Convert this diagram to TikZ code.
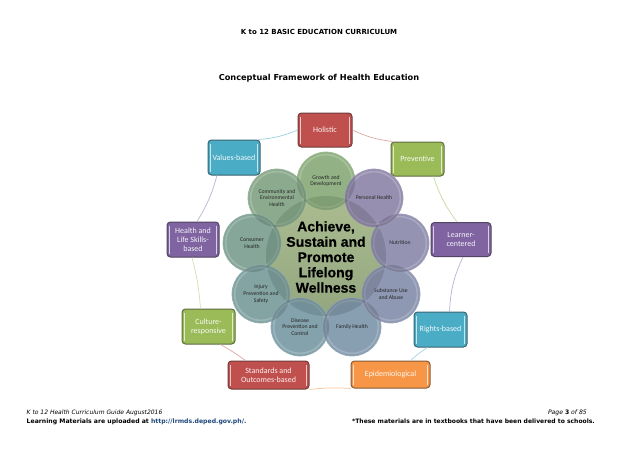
\documentclass[tikz,border=0pt]{standalone}
\usepackage{fontspec}
\setmainfont{Carlito}
\newfontfamily\versa{DejaVu Sans}
\newfontfamily\arialb[BoldFeatures={FakeBold=0.6}]{Liberation Sans}
\definecolor{cGrowth}{HTML}{8DAE7F}
\definecolor{cCommunity}{HTML}{86A788}
\definecolor{cConsumer}{HTML}{7FA293}
\definecolor{cInjury}{HTML}{7DA09F}
\definecolor{cDisease}{HTML}{7E9EA8}
\definecolor{cFamily}{HTML}{8299AD}
\definecolor{cSubstance}{HTML}{8A93AF}
\definecolor{cNutrition}{HTML}{8F8EAE}
\definecolor{cPersonal}{HTML}{9189AB}
\definecolor{bRed}{HTML}{C0504D}
\definecolor{bGreen}{HTML}{9BBB59}
\definecolor{bPurple}{HTML}{8064A2}
\definecolor{bBlue}{HTML}{4BACC6}
\definecolor{bOrange}{HTML}{F79646}
\definecolor{coreTop}{HTML}{ABBC90}
\definecolor{coreBot}{HTML}{93A67F}
\tikzset{
  head/.style={font=\versa\bfseries\fontsize{7}{9}\selectfont,text=black,inner sep=0},
  foot/.style={inner sep=0},
  boxn/.style={draw=#1!55!black!80!gray,line width=1pt,fill=#1,rounded corners=3.5pt,text=white!92!#1,
    align=center,font=\fontsize{8}{9}\selectfont,inner sep=0,
    path picture={
      \draw[white!70!#1,line width=1pt] ([shift={(2.4pt,-3.5pt)}]path picture bounding box.north west) -- ([shift={(2.4pt,3.5pt)}]path picture bounding box.south west);
      \draw[white!70!#1,line width=1pt] ([shift={(-2.4pt,-3.5pt)}]path picture bounding box.north east) -- ([shift={(-2.4pt,3.5pt)}]path picture bounding box.south east);
    }},
  disk/.style={circle,minimum size=58pt,inner sep=0,draw=#1!85!white,line width=.7pt,fill=#1,fill opacity=.95,text opacity=1,
    align=center,text=black!85,font=\fontsize{5.7}{6.7}\selectfont,
    path picture={\draw[white,opacity=.2,line width=1.6pt] (path picture bounding box.center) circle (26.4pt);}},
  coredisk/.style={circle,minimum size=120pt,inner sep=0,top color=coreTop,bottom color=coreBot},
  corelabel/.style={align=center,inner sep=0,font=\arialb\bfseries\fontsize{14}{15.3}\selectfont,text=black},
  ringarc/.style={line width=.7pt,draw=#1},
}
\begin{document}
\begin{tikzpicture}[x=1pt,y=-1pt]
\useasboundingbox[fill=white] (0,0) rectangle (638,451);
% headings
\node[head] (hdr) at (319,32) {K to 12 BASIC EDUCATION CURRICULUM};
\node[head,font=\versa\bfseries\fontsize{8.2}{11}\selectfont] (ttl) at (319,78) {Conceptual Framework of Health Education};
\node[boxn=bRed,minimum width=54pt,minimum height=34pt] (holistic) at (325,130) {Holistic};
\node[boxn=bGreen,minimum width=53pt,minimum height=34pt] (preventive) at (417.5,159) {Preventive};
\node[boxn=bPurple,minimum width=60pt,minimum height=34pt] (learner) at (461,239.5) {Learner-\\centered};
\node[boxn=bBlue,minimum width=53pt,minimum height=35pt] (rights) at (440.5,329.5) {Rights-based};
\node[boxn=bOrange,minimum width=79pt,minimum height=27pt] (epi) at (390.5,374.5) {Epidemiological};
\node[boxn=bRed,minimum width=81pt,minimum height=28pt] (standards) at (268.5,375) {Standards and\\Outcomes-based};
\node[boxn=bGreen,minimum width=53pt,minimum height=35pt] (culture) at (208.5,326.5) {Culture-\\responsive};
\node[boxn=bPurple,minimum width=52pt,minimum height=35pt] (lifeskills) at (193,239.5) {Health and\\Life Skills-\\based};
\node[boxn=bBlue,minimum width=52pt,minimum height=35pt] (values) at (234,157.5) {Values-based};
% ring
\draw[ringarc=bBlue!55!white] ([xshift=-2pt]values.north east) to[bend right=9] (holistic.west);
\draw[ringarc=bRed!50!white] (holistic.east) to[bend right=9] ([shift={(-25pt,0pt)}]preventive.north);
\draw[ringarc=bGreen!55!white] ([shift={(16pt,0pt)}]preventive.south) to[bend right=9] ([shift={(-4pt,0pt)}]learner.north);
\draw[ringarc=bPurple!50!white] ([shift={(2pt,0pt)}]learner.south) to[bend right=11] ([shift={(9pt,0pt)}]rights.north);
\draw[ringarc=bBlue!50!white] ([shift={(-13pt,0pt)}]rights.south) to[bend right=5] ([shift={(20pt,0pt)}]epi.north);
\draw[ringarc=bOrange!55!white] (epi.south west) to[bend right=5] (standards.south east);
\draw[ringarc=bRed!50!white] ([shift={(-23pt,0pt)}]standards.north) to[bend right=3] ([shift={(12pt,0pt)}]culture.south);
\draw[ringarc=bGreen!45!white] ([shift={(-8pt,0pt)}]culture.north) to[bend right=5] ([shift={(-1pt,0pt)}]lifeskills.south);
\draw[ringarc=bPurple!50!white] ([shift={(4pt,0pt)}]lifeskills.north) to[bend right=8] ([shift={(-17pt,0pt)}]values.south);
% core disk
\node[coredisk] (core) at (326,256) {};
% small disks
\node[disk=cGrowth] (growth) at (326,181) {Growth and\\Development};
\node[disk=cCommunity] (community) at (277,198) {Community and\\Environmental\\Health};
\node[disk=cConsumer] (consumer) at (252,243) {Consumer\\Health};
\node[disk=cInjury] (injury) at (261,294) {Injury\\Prevention and\\Safety};
\node[disk=cDisease] (disease) at (300,327) {Disease\\Prevention and\\Control};
\node[disk=cFamily] (family) at (352,327) {Family Health};
\node[disk=cSubstance] (substance) at (391,294) {Substance Use\\and Abuse};
\node[disk=cNutrition] (nutrition) at (400,243) {Nutrition};
\node[disk=cPersonal] (personal) at (374,198) {Personal Health};
% darker overlaps with the core
\foreach \n/\c in {growth/cGrowth,community/cCommunity,consumer/cConsumer,injury/cInjury,disease/cDisease,family/cFamily,substance/cSubstance,nutrition/cNutrition,personal/cPersonal}{
  \begin{scope}
    \clip (\n) circle (29pt);
    \fill[\c!80!black,opacity=.45] (core) circle (60pt);
  \end{scope}
}
% darker overlaps between neighbours
\foreach \a/\b/\c in {growth/community/cCommunity,community/consumer/cConsumer,consumer/injury/cInjury,injury/disease/cDisease,disease/family/cFamily,family/substance/cSubstance,substance/nutrition/cSubstance,nutrition/personal/cPersonal,personal/growth/cPersonal}{
  \begin{scope}
    \clip (\a) circle (29pt);
    \fill[\c!72!black,opacity=.4] (\b) circle (29pt);
  \end{scope}
}
\node[corelabel] (corelabel) at (326,257) {Achieve,\\Sustain and\\Promote\\Lifelong\\Wellness};
% footers
\node[foot,anchor=base west,font=\versa\itshape\fontsize{6}{8}\selectfont] (f1) at (26.5,414) {K to 12 Health Curriculum Guide August2016};
\node[foot,anchor=base west,font=\versa\bfseries\fontsize{6.15}{8}\selectfont] (f2) at (26.5,423) {Learning Materials are uploaded at \textcolor[HTML]{1F497D}{http://lrmds.deped.gov.ph/.}};
\node[foot,anchor=base east,font=\versa\itshape\fontsize{6.1}{8}\selectfont] (f3) at (587,414) {Page \textbf{\upshape 3} of 85};
\node[foot,anchor=base east,font=\versa\bfseries\fontsize{6.05}{8}\selectfont] (f4) at (595,423) {*These materials are in textbooks that have been delivered to schools.};
\end{tikzpicture}
\end{document}
